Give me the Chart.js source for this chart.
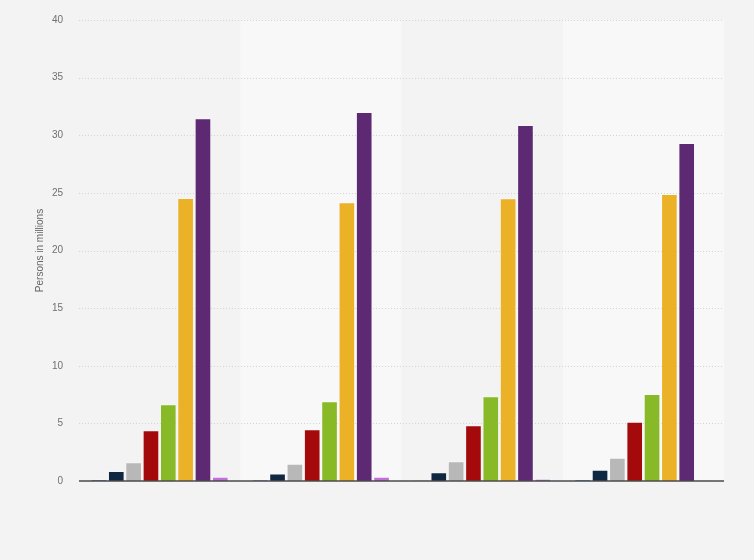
<!DOCTYPE html>
<html>
<head>
<meta charset="utf-8">
<script src="https://cdn.jsdelivr.net/npm/chart.js@4/dist/chart.umd.min.js"></script>
<style>
html,body{margin:0;padding:0;background:#f3f3f3;}
#wrap{width:754px;height:560px;position:relative;}
</style>
</head>
<body>
<div id="wrap"><canvas id="c" width="754" height="560"></canvas></div>
<script>
const categories = ["1", "2", "3", "4"];
const seriesNames = ["S1", "S2", "S3", "S4", "S5", "S6", "S7", "S8"];
const s1 = [0.15, 0.08, 0.06, 0.15];
const s2 = [0.87, 0.64, 0.75, 0.98];
const s3 = [1.62, 1.5, 1.71, 2.02];
const s4 = [4.4, 4.48, 4.83, 5.15];
const s5 = [6.65, 6.91, 7.35, 7.55];
const s6 = [24.56, 24.18, 24.53, 24.9];
const s7 = [31.47, 32.02, 30.89, 29.33];
const s8 = [0.37, 0.37, 0.2, 0.03];
const seriesValues = [s1, s2, s3, s4, s5, s6, s7, s8];
const colors = ["#2d67c3", "#0f2741", "#b8b8b8", "#a40a0b", "#87ba26", "#ebb227", "#5d2973", "#c36fdb"];
const yTicks = [0, 5, 10, 15, 20, 25, 30, 35, 40];
const yTitle = "Persons in millions";

const bgPlugin = {
  id: 'bg',
  beforeDraw(chart) {
    const ctx = chart.ctx;
    ctx.save();
    ctx.fillStyle = '#f3f3f3';
    ctx.fillRect(0, 0, chart.width, chart.height);
    ctx.restore();
  }
};
const bandPlugin = {
  id: 'bands',
  beforeDatasetsDraw(chart) {
    const {ctx, chartArea, scales} = chart;
    const x = scales.x, y = scales.y;
    const w = (chartArea.right - chartArea.left) / categories.length;
    ctx.save();
    categories.forEach((c, i) => {
      if (i % 2 === 1) {
        const cx = x.getPixelForValue(i);
        ctx.fillStyle = '#f8f8f8';
        ctx.fillRect(cx - w / 2, chartArea.top, w, chartArea.bottom - chartArea.top);
      }
    });
    ctx.strokeStyle = '#d4d4d4';
    ctx.lineWidth = 1;
    ctx.setLineDash([1, 2]);
    yTicks.forEach(v => {
      if (v === 0) return;
      const py = Math.round(y.getPixelForValue(v)) + 0.5;
      ctx.beginPath();
      ctx.moveTo(chartArea.left, py);
      ctx.lineTo(chartArea.right, py);
      ctx.stroke();
    });
    ctx.setLineDash([]);
    ctx.fillStyle = '#666';
    ctx.font = '10px Arial, "Liberation Sans", sans-serif';
    ctx.textAlign = 'center';
    ctx.textBaseline = 'middle';
    ctx.translate(40, (chartArea.top + chartArea.bottom) / 2);
    ctx.rotate(-Math.PI / 2);
    ctx.fillText(yTitle, 0, 0);
    ctx.restore();
  },
  afterDatasetsDraw(chart) {
    const {ctx, chartArea, scales} = chart;
    const p0 = scales.y.getPixelForValue(0);
    ctx.save();
    ctx.strokeStyle = '#4a4a4a';
    ctx.lineWidth = 1.5;
    ctx.beginPath();
    ctx.moveTo(chartArea.left, p0);
    ctx.lineTo(chartArea.right, p0);
    ctx.stroke();
    ctx.restore();
  }
};

new Chart(document.getElementById('c'), {
  type: 'bar',
  data: {
    labels: categories,
    datasets: seriesValues.map((vals, i) => ({
      label: seriesNames[i],
      data: vals,
      backgroundColor: colors[i],
      borderColor: 'rgba(255,255,255,0.3)',
      borderWidth: 1,
      categoryPercentage: 0.86,
      barPercentage: 0.96
    }))
  },
  options: {
    responsive: false,
    animation: false,
    devicePixelRatio: 1,
    layout: {padding: {left: 0, right: 30, top: 20, bottom: 79}},
    plugins: {legend: {display: false}, tooltip: {enabled: false}},
    scales: {
      x: {
        ticks: {display: false},
        grid: {display: false, drawTicks: false},
        border: {display: false}
      },
      y: {
        min: 0, max: 40,
        afterFit(scale) { scale.width = 79; scale.paddingTop = 0; scale.paddingBottom = 0; },
        afterBuildTicks(scale) { scale.ticks = yTicks.map(v => ({value: v})); },
        ticks: {color: '#707070', font: {family: 'Arial, Liberation Sans, sans-serif', size: 10}, padding: 16},
        grid: {display: false, drawTicks: false},
        border: {display: false}
      }
    }
  },
  plugins: [bgPlugin, bandPlugin]
});
</script>
</body>
</html>
